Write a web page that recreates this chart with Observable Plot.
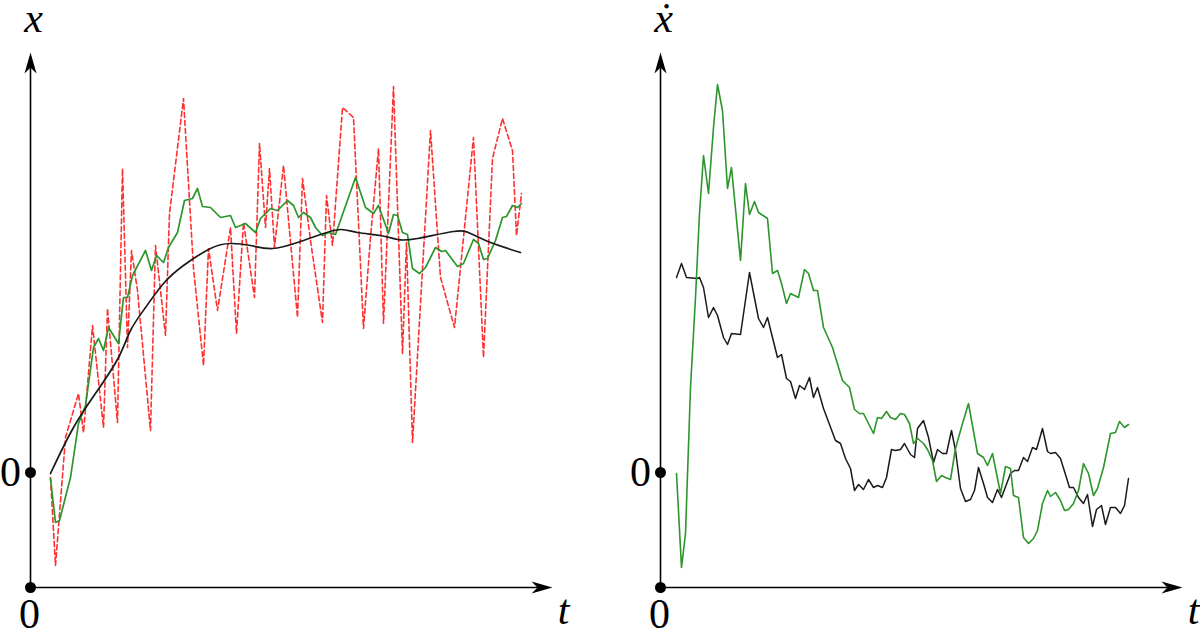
<!DOCTYPE html>
<html>
<head>
<meta charset="utf-8">
<script src="https://cdn.jsdelivr.net/npm/d3@7"></script>
<script src="https://cdn.jsdelivr.net/npm/@observablehq/plot@0.6"></script>
<style>
  html, body { margin: 0; padding: 0; background: #fff; overflow: hidden; }
  #wrap { position: relative; width: 1200px; height: 633px; overflow: hidden; }
  #left, #right { position: absolute; top: 0; width: 600px; height: 633px; }
  #left { left: 0; }
  #right { left: 630px; }
  #wrap svg { overflow: visible; max-width: none !important; width: 600px; height: 633px; }
</style>
</head>
<body>
<div id="wrap"><div id="left"></div><div id="right"></div></div>
<script>
// ---- Left panel: x(t) ----
const redT = [2.0,2.5,3.5,4.8,5.3,6.2,7.3,7.7,8.7,9.2,9.7,10.1,10.7,12.0,12.5,13.5,13.9,15.3,16.3,17.3,17.8,18.7,20.0,20.6,21.3,22.4,22.9,23.5,23.9,24.4,25.3,26.7,27.2,28.0,29.2,29.6,30.2,31.2,32.3,33.3,34.0,34.8,35.3,36.3,37.2,37.6,38.2,40.0,41.0,42.4,44.3,45.3,46.2,47.2,48.2,48.6,49.1];
const redX = [-0.05,-0.93,0.35,0.79,0.40,1.47,0.45,1.64,0.50,3.04,1.25,2.22,1.82,0.42,2.27,1.37,2.59,3.74,2.04,1.07,2.24,1.62,2.45,1.39,2.50,1.75,3.29,2.45,3.04,2.25,3.07,1.55,2.94,2.32,1.50,2.77,2.27,3.65,3.55,1.44,2.35,3.24,1.49,3.86,1.19,2.30,0.30,3.42,1.95,1.45,3.35,1.15,3.14,3.54,3.22,2.37,2.79];

const greenLT = [2.0,2.5,2.9,4.0,4.8,5.5,6.3,6.8,7.3,7.8,8.8,9.3,9.7,10.2,11.5,12.1,12.6,13.3,13.8,14.7,15.4,16.2,16.7,17.2,18.0,19.0,20.0,20.5,21.5,22.5,23.0,24.0,24.7,25.7,26.3,26.8,27.3,28.0,28.5,29.2,29.8,30.5,32.5,33.5,34.3,34.8,35.8,36.3,36.7,37.2,37.7,38.2,38.9,39.5,40.5,41.1,41.5,42.7,43.3,44.3,44.8,45.3,45.7,46.5,47.2,47.6,48.2,48.7,49.1];
const greenLX = [-0.06,-0.50,-0.48,-0.05,0.49,0.67,1.25,1.34,1.22,1.45,1.29,1.75,1.75,1.97,2.22,2.02,2.17,2.10,2.25,2.40,2.72,2.74,2.84,2.66,2.65,2.55,2.57,2.45,2.49,2.40,2.54,2.64,2.62,2.72,2.67,2.55,2.60,2.55,2.45,2.37,2.40,2.38,2.95,2.65,2.59,2.67,2.39,2.58,2.57,2.40,2.38,2.04,1.99,2.05,2.25,2.21,2.22,2.06,2.09,2.33,2.29,2.13,2.14,2.32,2.55,2.56,2.67,2.65,2.69];

const blackLT = [2.0,4.3,6.7,8.8,10.0,11.5,13.3,15.3,18.0,20.0,22.0,24.2,26.7,29.0,31.0,32.7,35.0,36.7,38.7,42.3,44.0,46.0,49.0];
const blackLX = [-0.01,0.45,0.82,1.15,1.42,1.65,1.89,2.07,2.24,2.29,2.27,2.24,2.30,2.38,2.43,2.40,2.37,2.33,2.34,2.41,2.39,2.30,2.20];

// ---- Right panel: x-dot(t) ----
const greenRT = [1.6,2.1,2.5,3.0,3.5,3.9,4.3,4.8,5.3,5.7,6.2,6.7,7.1,8.0,8.5,8.9,9.4,9.8,10.7,11.2,11.7,12.1,12.6,13.0,13.8,14.4,14.8,15.3,15.7,16.3,17.2,18.2,18.9,19.4,19.9,20.3,21.3,21.7,22.1,22.6,23.0,23.5,24.0,24.4,24.9,25.3,25.7,26.3,26.7,27.2,27.6,28.1,28.5,29.0,29.5,30.2,30.8,31.7,32.3,32.7,33.2,34.0,34.5,35.0,35.3,35.8,36.3,36.8,37.3,37.7,38.2,38.7,39.0,39.5,40.0,40.4,40.8,41.3,41.8,42.3,42.8,43.3,43.7,44.3,45.0,45.5,45.9,46.4,46.8];
const greenRX = [-0.01,-0.95,-0.61,0.85,1.75,2.59,3.17,2.79,3.45,3.88,3.62,2.84,3.05,2.12,2.89,2.58,2.71,2.60,2.54,1.99,2.02,1.89,1.69,1.79,1.75,2.03,1.99,1.82,1.82,1.45,1.25,0.92,0.85,0.63,0.59,0.59,0.39,0.55,0.54,0.61,0.55,0.53,0.59,0.58,0.49,0.29,0.34,0.29,0.23,0.12,-0.09,-0.03,-0.05,-0.07,0.24,0.49,0.69,0.19,0.15,0.07,0.19,-0.21,0.06,0.04,-0.23,-0.25,-0.65,-0.71,-0.66,-0.58,-0.31,-0.18,-0.24,-0.20,-0.28,-0.38,-0.37,-0.31,-0.18,0.09,-0.01,-0.23,-0.16,0.05,0.39,0.40,0.51,0.45,0.48];

const blackRT = [1.6,2.1,2.6,3.7,3.9,4.3,4.8,5.3,5.7,6.3,6.7,7.1,8.0,8.9,9.8,10.3,10.7,11.7,12.1,12.6,13.0,13.5,13.9,14.4,14.9,15.3,15.7,16.3,17.5,18.0,18.5,19.0,19.4,19.8,20.3,20.8,21.3,21.7,22.2,22.6,23.1,23.5,24.0,24.4,25.0,25.4,25.7,26.3,26.8,27.3,27.7,28.2,28.6,29.1,29.5,30.0,30.5,31.0,31.4,31.8,32.3,32.7,33.2,33.7,34.1,35.0,35.4,35.8,36.3,36.7,37.2,37.6,38.2,38.7,39.0,39.5,40.0,40.9,41.3,41.8,42.3,42.7,43.2,43.6,44.1,44.5,45.0,45.5,46.0,46.4,46.8];
const blackRX = [1.95,2.09,1.95,1.94,1.95,1.85,1.55,1.65,1.57,1.35,1.28,1.39,1.38,2.00,1.54,1.45,1.55,1.15,1.18,0.94,0.91,0.74,0.87,0.83,0.95,0.75,0.85,0.64,0.32,0.29,0.14,0.04,-0.18,-0.12,-0.17,-0.07,-0.15,-0.13,-0.15,-0.05,0.23,0.22,0.23,0.29,0.18,0.15,0.44,0.52,0.35,0.10,0.23,0.19,0.19,0.42,0.22,-0.16,-0.29,-0.27,-0.18,0.05,-0.11,-0.25,-0.30,-0.17,-0.25,-0.01,0.02,0.02,0.15,0.11,0.25,0.23,0.44,0.21,0.19,0.20,0.14,-0.15,-0.15,-0.25,-0.31,-0.22,-0.54,-0.37,-0.33,-0.52,-0.35,-0.35,-0.41,-0.33,-0.06];

// axis extents (data units)
const tMax = 52.2;
const yMin = -1.15;
const yMax = 4.2;

const zip = (ts, vs) => ts.map((t, i) => ({t, v: vs[i]}));

// stealth arrowhead symbol, tip at origin pointing up
const stealth = {
  draw(ctx) {
    ctx.moveTo(0, 0);
    ctx.lineTo(6, 21);
    ctx.lineTo(0, 15);
    ctx.lineTo(-6, 21);
    ctx.closePath();
  }
};

const serif = "'Liberation Serif', 'DejaVu Serif', serif";

function panel(series, yLabel) {
  return Plot.plot({
    width: 600,
    height: 633,
    marginLeft: 30,
    marginRight: 48,
    marginTop: 52,
    marginBottom: 46,
    x: {domain: [0, tMax], axis: null},
    y: {domain: [yMin, yMax], axis: null},
    style: {background: "transparent", overflow: "visible"},
    marks: [
      // axes
      Plot.ruleX([0], {y1: yMin, y2: yMax - 0.12, stroke: "#000", strokeWidth: 1.6}),
      Plot.ruleY([yMin], {x1: 0, x2: tMax - 1.2, stroke: "#000", strokeWidth: 1.6}),
      Plot.dot([{t: 0, v: yMax}], {x: "t", y: "v", symbol: stealth, r: 5, fill: "#000", stroke: null, rotate: 0}),
      Plot.dot([{t: tMax, v: yMin}], {x: "t", y: "v", symbol: stealth, r: 5, fill: "#000", stroke: null, rotate: 90}),
      // series
      ...series.map(s => Plot.line(zip(s.t, s.v), {
        x: "t", y: "v", stroke: s.color, strokeWidth: s.width,
        strokeDasharray: s.dash || null, curve: s.curve || "linear"
      })),
      // origin & zero dots
      Plot.dot([{t: 0, v: 0}, {t: 0, v: yMin}], {x: "t", y: "v", r: 5.5, fill: "#000", stroke: null}),
      // labels
      Plot.text([{t: 0, v: 0}], {x: "t", y: "v", text: () => "0", dx: -20, dy: 0, fontSize: 42, fontFamily: serif, fill: "#000"}),
      Plot.text([{t: 0, v: yMin}], {x: "t", y: "v", text: () => "0", dx: -1, dy: 27, fontSize: 42, fontFamily: serif, fill: "#000"}),
      Plot.text([{t: 0, v: yMax}], {x: "t", y: "v", text: () => yLabel, dx: 3, dy: -21, lineAnchor: "bottom", fontSize: 42, fontStyle: "italic", fontFamily: serif, fill: "#000"}),
      Plot.text([{t: tMax, v: yMin}], {x: "t", y: "v", text: () => "t", dx: 11, dy: 36, lineAnchor: "bottom", fontSize: 42, fontStyle: "italic", fontFamily: serif, fill: "#000"})
    ]
  });
}

const red = "#ff3030";
const green = "#2c952c";
const black = "#1a1a1a";

document.getElementById("left").append(panel([
  {t: redT, v: redX, color: red, width: 1.6, dash: "5,3"},
  {t: greenLT, v: greenLX, color: green, width: 1.7},
  {t: blackLT, v: blackLX, color: black, width: 1.7, curve: "natural"}
], "x"));

document.getElementById("right").append(panel([
  {t: blackRT, v: blackRX, color: black, width: 1.5},
  {t: greenRT, v: greenRX, color: green, width: 1.6}
], "ẋ"));
</script>
</body>
</html>
